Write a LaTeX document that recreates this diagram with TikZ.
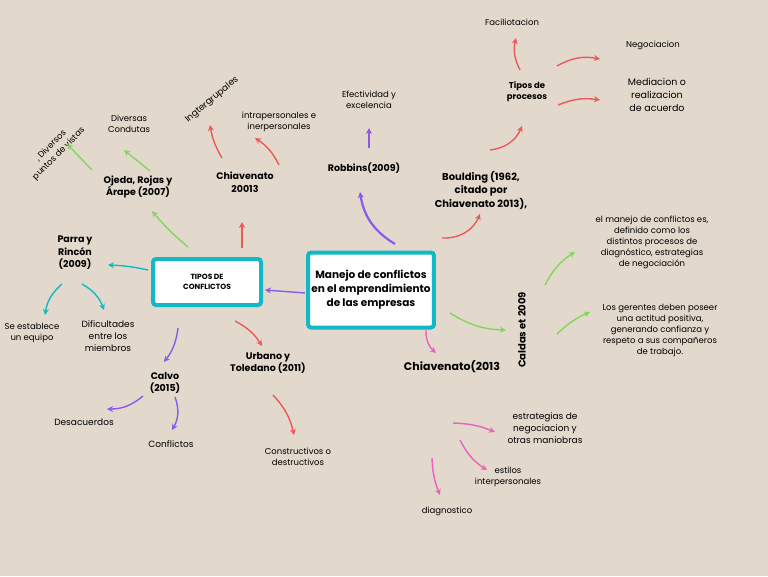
\documentclass[tikz,border=0pt]{standalone}
\usepackage{fontspec}
\setmainfont{Poppins}
\usetikzlibrary{arrows.meta}
\definecolor{bg}{RGB}{226,217,204}
\definecolor{cy}{RGB}{18,184,196}
\definecolor{pu}{RGB}{140,90,235}
\definecolor{re}{RGB}{238,88,88}
\definecolor{gr}{RGB}{130,214,90}
\definecolor{pk}{RGB}{236,96,190}
\tikzset{
 t/.style={font=\fontsize{8.5}{11}\selectfont,align=center,inner sep=1pt},
 b/.style={font=\bfseries\fontsize{9.5}{12.5}\selectfont,align=center,inner sep=1pt},
 ar/.style={-{Stealth[length=6pt,width=6pt]},line width=1.4pt},
 box/.style={draw=cy,line width=4pt,fill=white,rounded corners=3pt,align=center}
}
\begin{document}
\begin{tikzpicture}[x=1pt,y=-1pt]
\fill[bg] (0,0) rectangle (768,576);
\useasboundingbox (0,0) rectangle (768,576);
\node[box,minimum width=122,minimum height=75,font=\bfseries\fontsize{10.5}{14}\selectfont] (c) at (371,290) {Manejo de conflictos\\en el emprendimiento\\de las empresas};
\node[box,minimum width=108,minimum height=46,font=\bfseries\fontsize{7.5}{10}\selectfont] (tc) at (207,282) {TIPOS DE\\CONFLICTOS};
\node[b] (rob) at (364,168) {Robbins(2009)};
\node[t] (efe) at (369,100) {Efectividad y\\excelencia};
\node[b,font=\bfseries\fontsize{10}{13.5}\selectfont] (bou) at (481,190) {Boulding (1962,\\citado por\\Chiavenato 2013),};
\node[b,font=\bfseries\fontsize{8.5}{11}\selectfont] (tp) at (527,92) {Tipos de\\procesos};
\node[t] (fac) at (512,22) {Faciliotacion};
\node[t] (neg) at (653,45) {Negociacion};
\node[t,font=\fontsize{9.5}{13}\selectfont] (med) at (657,95) {Mediacion o\\realizacion\\de acuerdo};
\node[b,rotate=90,font=\bfseries\fontsize{10}{13}\selectfont] (cal) at (522,330) {Caldas et 2009};
\node[t] (mc) at (652,242) {el manejo de conflictos es,\\definido como los\\distintos procesos de\\diagnóstico, estrategias\\de negociación};
\node[t] (ger) at (660,330) {Los gerentes deben poseer\\una actitud positiva,\\generando confianza y\\respeto a sus compañeros\\de trabajo.};
\node[b,font=\bfseries\fontsize{11}{14}\selectfont] (ch) at (452,367) {Chiavenato(2013};
\node[t,font=\fontsize{9}{12}\selectfont] (est) at (545,428) {estrategias de\\negociacion y\\otras maniobras};
\node[t] (esi) at (508,477) {estilos\\interpersonales};
\node[t] (dia) at (447,511) {diagnostico};
\node[b] (urb) at (268,363) {Urbano y\\Toledano (2011)};
\node[t] (con) at (298,457) {Constructivos o\\destructivos};
\node[b] (calv) at (165,383) {Calvo\\(2015)};
\node[t,font=\fontsize{9}{12}\selectfont] (des) at (84,422) {Desacuerdos};
\node[t,font=\fontsize{9}{12}\selectfont] (cfl) at (171,444) {Conflictos};
\node[b] (par) at (75,253) {Parra y\\Rincón\\(2009)};
\node[t] (equ) at (32,333) {Se establece\\un equipo};
\node[t,font=\fontsize{9}{12}\selectfont] (dif) at (108,336) {Dificultades\\entre los\\miembros};
\node[b] (oje) at (138,187) {Ojeda, Rojas y\\Árape (2007)};
\node[t] (dco) at (129,124) {Diversas\\Condutas};
\node[t,rotate=45] (dpv) at (55,150) {, Diversos\\puntos de vistas};
\node[b] (chi) at (245,182) {Chiavenato\\20013};
\node[t] (int) at (279,122) {intrapersonales e\\inerpersonales};
\node[t,rotate=40,font=\fontsize{9}{12}\selectfont] (ing) at (212,100) {Ingtergrupales};
% arrow end coordinates
\foreach \n/\x/\y in {a1/395/244,a2/360/192, a3/369/148,a4/369/128, b1/442/238,b2/480/214, b3/490/150,b4/522/126,
 b5/520/70,b6/516/38, b7/557/66,b8/600/59, b9/558/105,b10/600/100,
 g1/450/313,g2/506/330, g3/545,g3/545/285,g4/575/252, g5/557/334,g6/590/312,
 p1/426/330,p2/436/353, p3/453/423,p4/495/432, p5/460/440,p6/487/470, p7/432/458,p8/440/495,
 u1/235,u1/235/321,u2/262/346, u3/273/395,u4/294/435,
 v1/178/328,v2/164/362, v3/143/396,v4/107/409, v5/175/397,v6/172/430,
 q1/305/293,q2/265/290,
 c1/148/270,c2/108/265, c3/62/284,c4/45/315, c5/82/284,c6/104/310,
 o1/188/247,o2/152/211, o3/150/171,o4/124/150, o5/92/170,o6/67/144,
 r1/242/248,r2/242/222, r3/279/165,r4/255/138, r5/222/158,r6/210/125}
 {\coordinate (\n) at (\x,\y);}
\draw[ar,pu,line width=2.2pt] (a1) to[bend left=25] (a2);
\draw[ar,pu] (a3) -- (a4);
\draw[ar,re] (b1) to[bend right=35] (b2);
\draw[ar,re] (b3) to[bend right=30] (b4);
\draw[ar,re] (b5) to[bend left=20] (b6);
\draw[ar,re] (b7) to[bend left=20] (b8);
\draw[ar,re] (b9) to[bend left=15] (b10);
\draw[ar,gr] (g1) to[bend right=15] (g2);
\draw[ar,gr] (g3) to[bend left=15] (g4);
\draw[ar,gr] (g5) to[bend left=10] (g6);
\draw[ar,pk] (p1) to[bend right=25] (p2);
\draw[ar,pk] (p3) to[bend left=10] (p4);
\draw[ar,pk] (p5) to[bend right=15] (p6);
\draw[ar,pk] (p7) to[bend right=10] (p8);
\draw[ar,re] (u1) to[bend left=15] (u2);
\draw[ar,re] (u3) to[bend left=15] (u4);
\draw[ar,pu] (v1) to[bend left=15] (v2);
\draw[ar,pu] (v3) to[bend left=20] (v4);
\draw[ar,pu] (v5) to[bend left=25] (v6);
\draw[ar,pu] (q1) -- (q2);
\draw[ar,cy] (c1) to[bend right=5] (c2);
\draw[ar,cy] (c3) to[bend right=20] (c4);
\draw[ar,cy] (c5) to[bend left=20] (c6);
\draw[ar,gr] (o1) to[bend left=5] (o2);
\draw[ar,gr] (o3) -- (o4);
\draw[ar,gr] (o5) -- (o6);
\draw[ar,re] (r1) -- (r2);
\draw[ar,re] (r3) to[bend right=15] (r4);
\draw[ar,re] (r5) to[bend left=10] (r6);
\end{tikzpicture}
\end{document}
